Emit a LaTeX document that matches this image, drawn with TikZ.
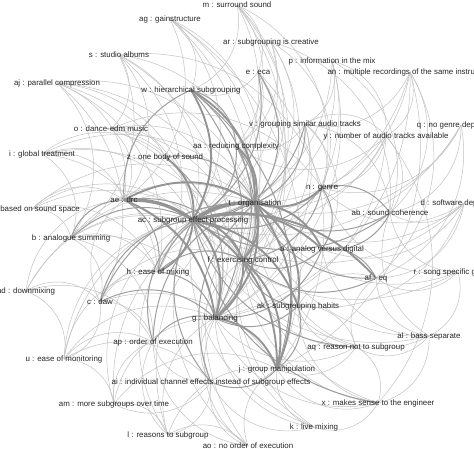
\documentclass[tikz,border=0pt]{standalone}
\usepackage{fontspec}
\setmainfont{Liberation Sans}
\usetikzlibrary{backgrounds}
\begin{document}
\begin{tikzpicture}[x=1pt,y=-1pt,
  lab/.style={inner sep=0pt, font=\fontsize{7.9}{9}\selectfont, text=black!85},
  thinedge/.style={draw=black!24, line width=0.5pt},
  midedge/.style={draw=black!38, line width=1pt},
  thickedge/.style={draw=black!42, line width=1.9pt},
  vthickedge/.style={draw=black!42, line width=3.4pt}]
\useasboundingbox (0,0) rectangle (474,448);
\node[lab] (m) at (237,5) {m : surround sound};
\node[lab] (ag) at (170,19) {ag : gainstructure};
\node[lab] (ar) at (271,42) {ar : subgrouping is creative};
\node[lab] (s) at (119,55) {s : studio albums};
\node[lab] (p) at (332,61) {p : information in the mix};
\node[lab] (e) at (258,72) {e : eca};
\node[lab] (an) at (410,72) {an : multiple recordings of the same instrument};
\node[lab] (aj) at (57,83) {aj : parallel compression};
\node[lab] (w) at (191,90) {w : hierarchical subgrouping};
\node[lab] (o) at (111,129) {o : dance-edm music};
\node[lab] (v) at (305,124) {v : grouping similar audio tracks};
\node[lab] (q) at (461,125) {q : no genre dependency};
\node[lab] (y) at (386,136) {y : number of audio tracks available};
\node[lab] (aa) at (236,146) {aa : reducing complexity};
\node[lab] (i) at (42,154) {i : global treatment};
\node[lab] (z) at (165,157) {z : one body of sound};
\node[lab] (n) at (322,188) {n : genre};
\node[lab] (ae) at (124,200) {ae : drc};
\node[lab] (t) at (255,203) {t : organisation};
\node[lab] (d) at (464,203) {d : software dependency};
\node[lab] (ah) at (32,209) {ah : based on sound space};
\node[lab] (ab) at (390,213) {ab : sound coherence};
\node[lab] (ac) at (193,220) {ac : subgroup effect processing};
\node[lab] (b) at (71,238) {b : analogue summing};
\node[lab] (a) at (322,249) {a : analog versus digital};
\node[lab] (f) at (243,260) {f : exercising control};
\node[lab] (h) at (158,272) {h : ease of mixing};
\node[lab] (af) at (376,278) {af : eq};
\node[lab] (r) at (458,272) {r : song specific grouping};
\node[lab] (ad) at (26,291) {ad : downmixing};
\node[lab] (c) at (100,302) {c : daw};
\node[lab] (ak) at (298,306) {ak : subgrouping habits};
\node[lab] (g) at (215,318) {g : balancing};
\node[lab] (al) at (429,336) {al : bass separate};
\node[lab] (ap) at (153,342) {ap : order of execution};
\node[lab] (aq) at (356,347) {aq : reason not to subgroup};
\node[lab] (u) at (64,359) {u : ease of monitoring};
\node[lab] (j) at (277,369) {j : group manipulation};
\node[lab] (ai) at (211,382) {ai : individual channel effects instead of subgroup effects};
\node[lab] (am) at (114,404) {am : more subgroups over time};
\node[lab] (x) at (378,403) {x : makes sense to the engineer};
\node[lab] (k) at (314,427) {k : live mixing};
\node[lab] (l) at (168,435) {l : reasons to subgroup};
\node[lab] (ao) at (248,446) {ao : no order of execution};
\begin{scope}[on background layer]
\foreach \sa/\sb in {m/ac,m/t,m/w,m/aa,m/e,m/f,m/g,m/n,
  ag/ac,ag/t,ag/g,ag/f,ag/ae,ag/j,ag/w,
  ar/ac,ar/t,ar/aa,ar/f,ar/n,ar/ab,
  s/ac,s/t,s/o,s/n,s/g,s/ae,s/h,s/b,
  p/ac,p/t,p/v,p/g,p/f,p/ab,p/y,
  e/w,e/aa,e/f,e/g,e/j,
  an/ac,an/t,an/v,an/y,an/ab,an/af,an/g,an/j,
  aj/ac,aj/ae,aj/t,aj/f,aj/h,aj/b,aj/g,aj/c,
  o/ac,o/t,o/n,o/ae,o/g,o/z,o/f,
  v/aa,v/f,v/g,v/y,v/n,v/a,v/ab,
  q/ac,q/n,q/ab,q/t,q/af,
  y/ac,y/t,y/aa,y/n,y/ab,y/g,y/x,
  i/ac,i/ae,i/t,i/f,i/z,i/b,i/h,
  ah/ac,ah/ae,ah/t,ah/b,ah/f,ah/h,
  d/ac,d/t,d/ab,d/af,d/a,d/ak,d/n,
  b/t,b/f,b/g,b/h,b/c,b/ap,
  r/ac,r/t,r/ab,r/af,r/al,r/n,
  ad/ac,ad/ae,ad/t,ad/c,ad/u,ad/ap,
  c/h,c/ap,c/f,c/j,c/ae,c/u,
  al/ac,al/t,al/af,al/aq,al/ak,al/a,al/ab,al/x,
  aq/t,aq/f,aq/g,aq/j,aq/ak,aq/x,aq/af,
  u/ac,u/t,u/ap,u/am,u/g,u/ai,u/h,
  ai/g,ai/f,ai/ap,ai/am,ai/l,
  am/ac,am/t,am/ap,am/g,am/l,am/j,
  x/t,x/f,x/g,x/j,x/ak,x/k,
  k/ac,k/t,k/j,k/g,k/f,k/ai,
  l/ac,l/t,l/g,l/ap,l/j,l/ao,
  ao/ac,ao/t,ao/ap,ao/g,ao/j,ao/ai,
  ak/a,ak/af,ak/aq}
  \draw[thinedge] (\sa.center) to[bend left=40] (\sb.center);
\foreach \sa/\sb in {w/aa,w/f,w/g,w/j,aa/ac,aa/f,aa/g,n/ac,n/f,n/ab,n/a,a/af,a/f,a/g,
  ak/f,ak/g,ak/j,ap/ac,ap/g,ap/t,c/ac,c/g,c/t,h/t,h/f,h/g,ae/f,ae/h,ae/w,e/ac,e/t,
  v/ac,v/t,ab/ac,ab/t,af/t,af/f,b/ac,b/ae,ai/ac,ai/t,j/ai,z/t,z/g,aq/ac,x/ac,ab/a}
  \draw[midedge] (\sa.center) to[bend left=35] (\sb.center);
\foreach \sa/\sb in {w/ac,ac/f,t/g,ac/g,t/f,ac/j,w/t,aa/t,ae/t,ac/ak,t/j,f/g,ac/a,t/a,
  n/t,ac/h,g/j,ae/g,z/ac,ac/af,t/ak,f/j}
  \draw[thickedge] (\sa.center) to[bend left=30] (\sb.center);
\foreach \sa/\sb in {ae/ac,ac/t}
  \draw[vthickedge] (\sa.center) to[bend left=18] (\sb.center);
\end{scope}
\end{tikzpicture}
\end{document}
